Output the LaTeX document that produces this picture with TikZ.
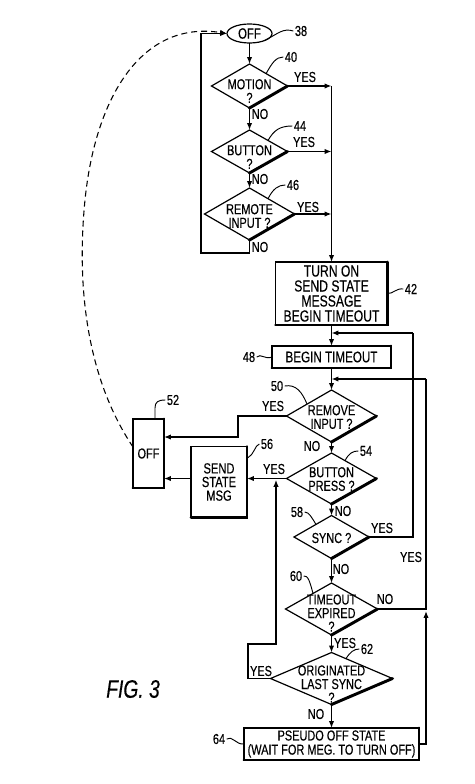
\documentclass[tikz,border=0pt]{standalone}
\usepackage{fontspec}
\setmainfont{Liberation Sans}[FakeStretch=0.76,FakeBold=0.3]
\usetikzlibrary{shapes.geometric,arrows.meta}
\begin{document}
\begin{tikzpicture}[x=0.75pt,y=-0.75pt,
  ln/.style={line width=0.9pt},
  arr/.style={line width=0.9pt,-{Latex[length=5.2pt,width=4pt]}},
  shd/.style={line width=2.2pt,line cap=round},
  dia/.style={draw,line width=0.9pt,diamond,inner sep=0pt,outer sep=0pt},
  box/.style={draw,line width=0.9pt,rectangle,inner sep=0pt,outer sep=0pt,align=center},
  txt/.style={align=center,inner sep=0pt,font=\fontsize{10.8}{10.2}\selectfont},
  lab/.style={inner sep=0pt,font=\fontsize{10.8}{12}\selectfont},
  lead/.style={line width=0.7pt}
]
\fill[white] (0,0) rectangle (474,784);
\useasboundingbox (0,0) rectangle (474,784);

% ---------- shapes ----------
\node[draw,line width=0.9pt,ellipse,minimum width=33.75pt,minimum height=14.25pt,inner sep=0pt,outer sep=0pt,font=\fontsize{11.2}{12}\selectfont] (off38) at (249.5,33.5) {OFF};
\node[dia,minimum width=57pt,minimum height=33pt] (d40) at (249.5,86) {};
\node[txt] (t40) at (249.5,91) {MOTION\\?};
\node[dia,minimum width=57pt,minimum height=32.25pt] (d44) at (249.5,151.5) {};
\node[txt] (t44) at (249.5,157) {BUTTON\\?};
\node[dia,minimum width=67.5pt,minimum height=39pt] (d46) at (249.5,214) {};
\node[txt] (t46) at (249.5,216) {REMOTE\\INPUT ?};

\node[box,minimum width=84pt,minimum height=47.25pt,font=\fontsize{12}{11.25}\selectfont] (b42) at (331.5,293.5) {TURN ON\\SEND STATE\\MESSAGE\\BEGIN TIMEOUT};
\node[box,minimum width=89.25pt,minimum height=16.5pt,font=\fontsize{11.5}{12}\selectfont] (b48) at (331.5,357) {BEGIN TIMEOUT};
\node[dia,minimum width=67.5pt,minimum height=39pt] (d50) at (331.5,416) {};
\node[txt] (t50) at (331.5,417) {REMOVE\\INPUT ?};
\node[box,minimum width=23.25pt,minimum height=51.75pt,font=\fontsize{10.8}{12}\selectfont] (b52) at (148.5,453.5) {OFF};
\node[box,minimum width=42pt,minimum height=53.25pt,font=\fontsize{11}{10.2}\selectfont] (b56) at (219,482) {SEND\\STATE\\MSG};
\node[dia,minimum width=67.5pt,minimum height=38.25pt] (d54) at (331.5,478.5) {};
\node[txt] (t54) at (331.5,479) {BUTTON\\PRESS ?};
\node[dia,minimum width=56.25pt,minimum height=32.25pt] (d58) at (331.5,537) {};
\node[txt] (t58) at (331.5,538) {SYNC ?};
\node[dia,minimum width=69pt,minimum height=39pt] (d60) at (331.5,609) {};
\node[txt] (t60) at (331.5,613) {TIMEOUT\\EXPIRED\\?};
\node[dia,minimum width=91.5pt,minimum height=39pt] (d62) at (331.5,678.5) {};
\node[txt] (t62) at (331.5,684) {ORIGINATED\\LAST SYNC\\?};
\node[box,minimum width=131.25pt,minimum height=24pt,font=\fontsize{10.8}{10.6}\selectfont] (b64) at (331.5,744) {PSEUDO OFF STATE\\(WAIT FOR MEG. TO TURN OFF)};

% ---------- shadows ----------
\foreach \d in {d40,d44,d46,d50,d54,d58,d60,d62}{\draw[shd] (\d.east) -- (\d.south);}
\foreach \b in {b42,b48,b52,b56,b64}{\draw[shd] (\b.north east) -- (\b.south east) -- (\b.south west);}

% ---------- connectors: upper loop ----------
\coordinate (vr) at (331.5,86);
\coordinate (p1) at (249.5,253);
\coordinate (p2) at (201,253);
\draw[arr] (off38.south) -- (d40.north);
\draw[arr] (d40.south) -- (d44.north);
\draw[arr] (d44.south) -- (d46.north);
\draw[arr] (d46.south) -- (p1) -- (p2) |- (off38.west);
\draw[arr] (d40.east) -- (d40.east -| vr);
\draw[arr] (d44.east) -- (d44.east -| vr);
\draw[arr] (d46.east) -- (d46.east -| vr);
\draw[arr] (vr) -- (vr |- b42.north);

% ---------- connectors: lower part ----------
\coordinate (m1) at (331.5,333);
\coordinate (r1) at (413,333);
\coordinate (m2) at (331.5,379);
\coordinate (r2) at (426,379);
\coordinate (r3) at (426,611);
\coordinate (k2) at (238,437);
\coordinate (q1) at (248,644);
\coordinate (q2) at (276,644);
\draw[arr] (b42.south) -- (b48.north);
\draw[arr] (b48.south) -- (d50.north);
\draw[arr] (r1) -- (m1);
\draw[ln] (d58.east) -| (r1);
\draw[arr] (r2) -- (m2);
\draw[ln] (d60.east) -- (d60.east -| r2) -- (r2);
\draw[arr] (b64.east) -| (r3);
\draw[arr] (d50.west) -| (k2) -- (k2 -| b52.east);
\draw[arr] (d50.south) -- (d54.north);
\draw[arr] (d54.west) -- (d54.west -| b56.east);
\draw[arr] (b56.west |- d54.west) -- (b52.east |- d54.west);
\draw[arr] (d54.south) -- (d58.north);
\draw[arr] (d58.south) -- (d60.north);
\draw[arr] (d60.south) -- (d62.north);
\draw[arr] (d62.west) -| (q1) -- (q2) -- ([yshift=-1pt]q2 |- d54.west);
\draw[arr] (d62.south) -- (b64.north);

% dashed return
\coordinate (ds) at (133,447);
\draw[line width=0.8pt,dash pattern=on 4.5pt off 3pt,-{Latex[length=5.2pt,width=4pt]}] (ds) .. controls (88,380) and (76,290) .. (85,200) .. controls (95,100) and (140,20) .. (off38.west);

% ---------- YES / NO labels ----------
\node[lab] (y40) at (305,77) {YES};
\node[lab] (y44) at (304,142) {YES};
\node[lab] (y46) at (308,207) {YES};
\node[lab] (n40l) at (260,114) {NO};
\node[lab] (n44l) at (260,179) {NO};
\node[lab] (n46l) at (260,247) {NO};
\node[lab] (y50) at (273,406) {YES};
\node[lab] (n50l) at (312,446) {NO};
\node[lab] (y54) at (274,469) {YES};
\node[lab] (n54l) at (343,511) {NO};
\node[lab] (y58) at (382,528) {YES};
\node[lab] (n58l) at (341,569) {NO};
\node[lab] (n60l) at (385,599) {NO};
\node[lab] (y60) at (345,643) {YES};
\node[lab] (yr) at (411,557) {YES};
\node[lab] (y62) at (261,671) {YES};
\node[lab] (n62l) at (316,714) {NO};

% ---------- reference numerals ----------
\node[lab] (n38) at (301,31) {38};
\node[lab] (n40) at (291,57) {40};
\node[lab] (n44) at (300,126) {44};
\node[lab] (n46) at (293,185) {46};
\node[lab] (n42) at (411,289) {42};
\node[lab] (n48) at (249,357) {48};
\node[lab] (n50) at (277,386) {50};
\node[lab] (n52) at (173,400) {52};
\node[lab] (n56) at (267,444) {56};
\node[lab] (n54) at (366,451) {54};
\node[lab] (n58) at (297,512) {58};
\node[lab] (n60) at (296,576) {60};
\node[lab] (n62) at (367,649) {62};
\node[lab] (n64) at (219,739) {64};

\draw[lead] (off38.-25) .. controls (279,33) and (283,28) .. ([xshift=-1pt]n38.west);
\draw[lead] (266,73.8) .. controls (272,63) and (276,57) .. ([xshift=-1pt]n40.west);
\draw[lead] (268,140.5) .. controls (274,130) and (280,126) .. ([xshift=-1pt]n44.west);
\draw[lead] (268,198.7) .. controls (273,189) and (278,185) .. ([xshift=-1pt]n46.west);
\draw[lead] (b42.east) .. controls (393,294) and (396,288) .. ([xshift=-1pt]n42.west);
\draw[lead] ([xshift=1pt]n48.east) .. controls (261,353) and (265,360) .. (b48.west);
\draw[lead] ([xshift=1pt]n50.east) .. controls (296,384) and (302,392) .. (307,404);
\draw[lead] (155,419) -- (155,408) .. controls (155,402) and (158,400) .. ([xshift=-1pt]n52.west);
\draw[lead] (247.5,458) .. controls (254,455) and (255,445) .. ([xshift=-1pt]n56.west);
\draw[lead] (345,460.6) .. controls (349,453) and (353,451) .. ([xshift=-1pt]n54.west);
\draw[lead] ([xshift=1pt]n58.east) .. controls (309,512) and (312,518) .. (316,524.4);
\draw[lead] ([xshift=1pt]n60.east) .. controls (308,575) and (310,582) .. (313,593.5);
\draw[lead] (346,658.7) .. controls (350,652) and (354,649) .. ([xshift=-1pt]n62.west);
\draw[lead] ([xshift=1pt]n64.east) .. controls (232,735) and (236,745) .. (b64.west);

% ---------- figure title ----------
\node[inner sep=0pt,font=\fontsize{19}{22}\selectfont\itshape] (fig) at (133,689) {FIG. 3};
\end{tikzpicture}
\end{document}
